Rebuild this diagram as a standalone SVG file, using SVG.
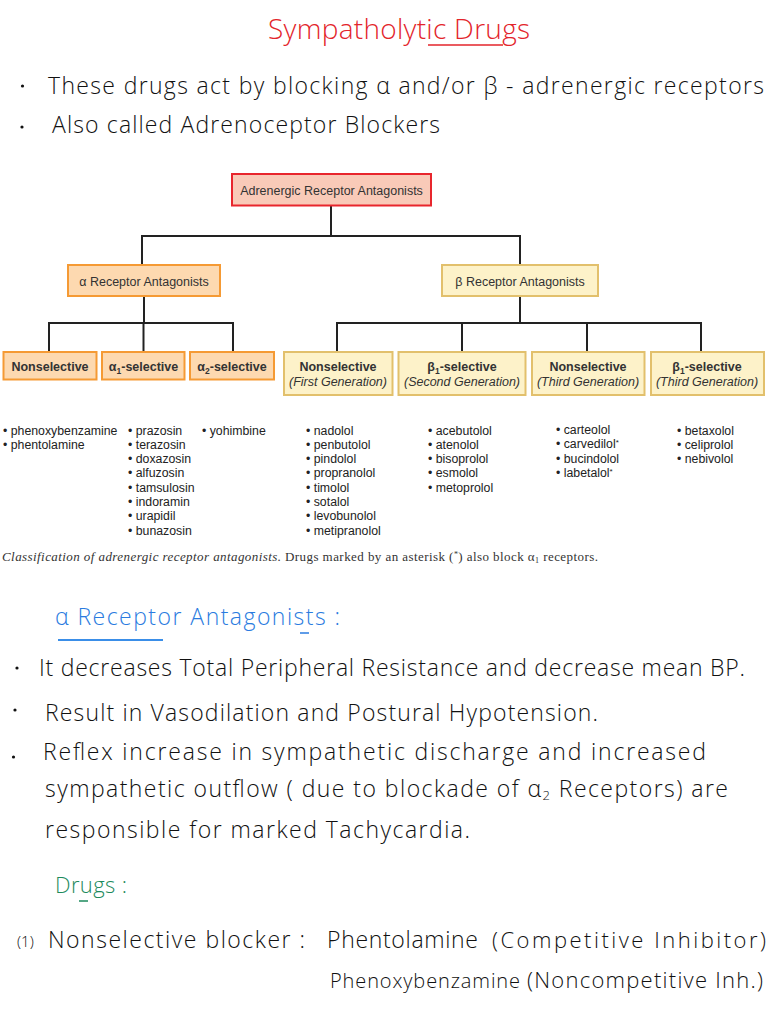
<svg xmlns="http://www.w3.org/2000/svg" width="768" height="1024" viewBox="0 0 768 1024">
<style>
.hw{font-family:"Open Sans","Liberation Sans",sans-serif;font-weight:300;fill:#111;}
.h1{font-size:23px;}
.box{font-family:"Liberation Sans",Arial,sans-serif;font-size:12.5px;fill:#333;text-anchor:middle;}
.b{font-weight:bold;}
.it{font-style:italic;}
.lst{font-family:"Liberation Sans",Arial,sans-serif;font-size:12.3px;fill:#222;}
.cap{font-family:"Liberation Serif","Times New Roman",serif;font-size:13px;fill:#333;}
.root{fill:#f9cab8;stroke:#e8262d;stroke-width:2;}
.alpha{fill:#fdd9b0;stroke:#f59a34;stroke-width:2;}
.beta{fill:#fdf2c9;stroke:#e2c06c;stroke-width:2;}
.conn line{stroke:#222;stroke-width:2;}
</style>
<rect width="768" height="1024" fill="#ffffff"/>

<!-- Handwritten header -->
<text class="hw" x="268" y="39" font-size="28" style="fill:#e3242b" textLength="262" lengthAdjust="spacing">Sympatholytic Drugs</text>
<line x1="428" y1="45" x2="503" y2="45" stroke="#e3242b" stroke-width="1.6"/>
<circle cx="22.5" cy="86" r="1.6" fill="#111"/>
<text class="hw h1" x="48" y="94" textLength="716" lengthAdjust="spacing">These drugs act by blocking α and/or β - adrenergic receptors</text>
<circle cx="22" cy="127" r="1.6" fill="#111"/>
<text class="hw h1" x="52" y="133" textLength="388" lengthAdjust="spacing">Also called Adrenoceptor Blockers</text>

<!-- Connectors -->
<g id="connectors" class="conn">
<line x1="331" y1="206" x2="331" y2="236"/>
<line x1="142" y1="236" x2="520" y2="236"/>
<line x1="142" y1="235" x2="142" y2="265"/>
<line x1="520" y1="235" x2="520" y2="265"/>
<line x1="144" y1="296" x2="144" y2="323"/>
<line x1="49" y1="323" x2="233" y2="323"/>
<line x1="49" y1="322" x2="49" y2="352"/>
<line x1="143.5" y1="322" x2="143.5" y2="352"/>
<line x1="233" y1="322" x2="233" y2="352"/>
<line x1="520" y1="296" x2="520" y2="323"/>
<line x1="337" y1="323" x2="701" y2="323"/>
<line x1="337" y1="322" x2="337" y2="352"/>
<line x1="462" y1="322" x2="462" y2="352"/>
<line x1="587" y1="322" x2="587" y2="352"/>
<line x1="701" y1="322" x2="701" y2="352"/>
</g>

<!-- Nodes -->
<g id="root">
<rect class="root" x="232" y="174" width="199" height="31.5"/>
<text class="box" x="331.5" y="194.5">Adrenergic Receptor Antagonists</text>
</g>
<g id="alpha">
<rect class="alpha" x="68" y="265" width="152" height="31"/>
<text class="box" x="144" y="285.5">α Receptor Antagonists</text>
</g>
<g id="beta">
<rect class="beta" x="442" y="265" width="156" height="31"/>
<text class="box" x="520" y="285.5">β Receptor Antagonists</text>
</g>
<g id="alpha-nonselective">
<rect class="alpha" x="3.5" y="352" width="93" height="27.5"/>
<text class="box b" x="50" y="370.5">Nonselective</text>
</g>
<g id="alpha1-selective">
<rect class="alpha" x="102" y="352" width="82.5" height="27.5"/>
<text class="box b" x="143.5" y="370.5">α<tspan font-size="8.5" dy="3">1</tspan><tspan dy="-3">-selective</tspan></text>
</g>
<g id="alpha2-selective">
<rect class="alpha" x="190" y="352" width="84" height="27.5"/>
<text class="box b" x="232" y="370.5">α<tspan font-size="8.5" dy="3">2</tspan><tspan dy="-3">-selective</tspan></text>
</g>
<g id="beta-nonselective-1">
<rect class="beta" x="284" y="352" width="108.5" height="43"/>
<text class="box b" x="338" y="370.5">Nonselective</text>
<text class="box it" x="338" y="385.5">(First Generation)</text>
</g>
<g id="beta1-selective-2">
<rect class="beta" x="398.5" y="352" width="127" height="43"/>
<text class="box b" x="462" y="370.5">β<tspan font-size="8.5" dy="3">1</tspan><tspan dy="-3">-selective</tspan></text>
<text class="box it" x="462" y="385.5">(Second Generation)</text>
</g>
<g id="beta-nonselective-3">
<rect class="beta" x="532" y="352" width="112.5" height="43"/>
<text class="box b" x="588" y="370.5">Nonselective</text>
<text class="box it" x="588" y="385.5">(Third Generation)</text>
</g>
<g id="beta1-selective-3">
<rect class="beta" x="651" y="352" width="113" height="43"/>
<text class="box b" x="707" y="370.5">β<tspan font-size="8.5" dy="3">1</tspan><tspan dy="-3">-selective</tspan></text>
<text class="box it" x="707" y="385.5">(Third Generation)</text>
</g>

<!-- Drug lists -->
<g id="lists" class="lst">
<text x="3" y="434.5">• phenoxybenzamine<tspan x="3" dy="14.3">• phentolamine</tspan></text>
<text x="128" y="434.5">• prazosin<tspan x="128" dy="14.3">• terazosin</tspan><tspan x="128" dy="14.3">• doxazosin</tspan><tspan x="128" dy="14.3">• alfuzosin</tspan><tspan x="128" dy="14.3">• tamsulosin</tspan><tspan x="128" dy="14.3">• indoramin</tspan><tspan x="128" dy="14.3">• urapidil</tspan><tspan x="128" dy="14.3">• bunazosin</tspan></text>
<text x="202" y="434.5">• yohimbine</text>
<text x="306" y="434.5">• nadolol<tspan x="306" dy="14.3">• penbutolol</tspan><tspan x="306" dy="14.3">• pindolol</tspan><tspan x="306" dy="14.3">• propranolol</tspan><tspan x="306" dy="14.3">• timolol</tspan><tspan x="306" dy="14.3">• sotalol</tspan><tspan x="306" dy="14.3">• levobunolol</tspan><tspan x="306" dy="14.3">• metipranolol</tspan></text>
<text x="428" y="434.5">• acebutolol<tspan x="428" dy="14.3">• atenolol</tspan><tspan x="428" dy="14.3">• bisoprolol</tspan><tspan x="428" dy="14.3">• esmolol</tspan><tspan x="428" dy="14.3">• metoprolol</tspan></text>
<text x="556" y="434">• carteolol<tspan x="556" dy="14.3">• carvedilol</tspan><tspan font-size="8" dy="-3">*</tspan><tspan x="556" dy="17.3">• bucindolol</tspan><tspan x="556" dy="14.3">• labetalol</tspan><tspan font-size="8" dy="-3">*</tspan></text>
<text x="677" y="434.5">• betaxolol<tspan x="677" dy="14.3">• celiprolol</tspan><tspan x="677" dy="14.3">• nebivolol</tspan></text>
</g>

<text class="cap it" x="2" y="561" textLength="279" lengthAdjust="spacing">Classification of adrenergic receptor antagonists.</text>
<text class="cap" x="285" y="561" textLength="313" lengthAdjust="spacing">Drugs marked by an asterisk (<tspan font-size="8" dy="-4">*</tspan><tspan dy="4">) also block α</tspan><tspan font-size="8" dy="2">1</tspan><tspan dy="-2"> receptors.</tspan></text>

<!-- Alpha receptor section (handwritten) -->
<text class="hw" x="55" y="625" font-size="23" style="fill:#2a7be0" textLength="285" lengthAdjust="spacing">α Receptor Antagonists :</text>
<line x1="58" y1="640" x2="163" y2="640" stroke="#3a8ee8" stroke-width="2"/>
<line x1="300" y1="633" x2="309" y2="633" stroke="#2a7be0" stroke-width="1.5"/>

<circle cx="17" cy="668" r="1.6" fill="#111"/>
<text class="hw h1" x="39" y="676" textLength="706" lengthAdjust="spacing">It decreases Total Peripheral Resistance and decrease mean BP.</text>
<circle cx="15" cy="710" r="1.6" fill="#111"/>
<text class="hw h1" x="45" y="721" textLength="553" lengthAdjust="spacing">Result in Vasodilation and Postural Hypotension.</text>
<circle cx="13.5" cy="757" r="1.6" fill="#111"/>
<text class="hw h1" x="43" y="760" textLength="663" lengthAdjust="spacing">Reflex increase in sympathetic discharge and increased</text>
<text class="hw h1" x="45" y="797" textLength="683" lengthAdjust="spacing">sympathetic outflow ( due to blockade of α<tspan font-size="13" dy="3">2</tspan><tspan dy="-3"> Receptors) are</tspan></text>
<text class="hw h1" x="45" y="838" textLength="425" lengthAdjust="spacing">responsible for marked Tachycardia.</text>

<!-- Drugs section -->
<text class="hw" x="55" y="893" font-size="22" style="fill:#1d8a5c" textLength="72" lengthAdjust="spacing">Drugs :</text>
<line x1="79" y1="901" x2="88" y2="901" stroke="#1d8a5c" stroke-width="1.5"/>
<text class="hw" x="17" y="947" font-size="15">(1)</text>
<text class="hw h1" x="48" y="948" textLength="257" lengthAdjust="spacing">Nonselective blocker :</text>
<text class="hw h1" x="327" y="948" textLength="151" lengthAdjust="spacing">Phentolamine</text>
<text class="hw" x="492" y="948" font-size="22" textLength="274" lengthAdjust="spacing">(Competitive Inhibitor)</text>
<text class="hw" x="330" y="988" font-size="20" textLength="190" lengthAdjust="spacing">Phenoxybenzamine</text>
<text class="hw" x="527" y="988" font-size="22" textLength="236" lengthAdjust="spacing">(Noncompetitive Inh.)</text>
</svg>
